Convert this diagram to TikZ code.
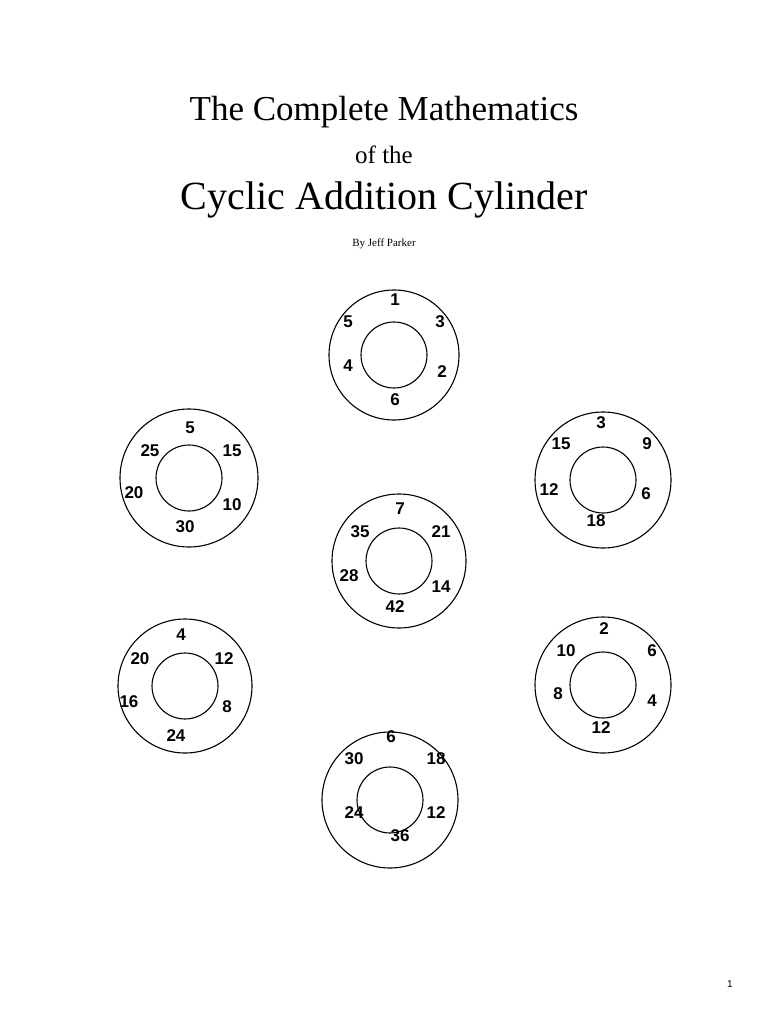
\documentclass[tikz,border=0pt]{standalone}
\usepackage{fontspec}
\setmainfont{Liberation Serif}
\newfontfamily\numfont{Liberation Sans}
\begin{document}
\begin{tikzpicture}[x=1pt,y=-1pt,
  ring/.style={draw,line width=1.1pt,circle},
  num/.style={font=\numfont\bfseries\fontsize{17}{17}\selectfont,inner sep=0pt}]
\useasboundingbox (0,0) rectangle (768,1024);
\node[font=\fontsize{35}{35}\selectfont] (t1) at (384,112) {The Complete Mathematics};
\node[font=\fontsize{25}{25}\selectfont] (t2) at (384,155) {of the};
\node[font=\fontsize{40}{40}\selectfont] (t3) at (384,200) {Cyclic Addition Cylinder};
\node[font=\fontsize{11}{11}\selectfont] (t4) at (384,244) {By Jeff Parker};
\node[font=\numfont\fontsize{10}{10}\selectfont] (pg) at (730,984) {1};
% rings: name/center/outer radius
\foreach \n/\cx/\cy/\r in {A/394/355/65, B/189/478/69, C/603/480/68, D/399/561/67, E/185/686/67, F/603/685/68, G/390/800/68}{
  \node[ring,minimum size=2*\r] (\n o) at (\cx,\cy) {};
  \node[ring,minimum size=66] (\n i) at (\cx,\cy) {};
}
\foreach \l/\x/\y in {1/395/300,3/440/322,2/442/372,6/395/400,4/348/366,5/348/322,
 5/190/428,15/232/451,10/232/505,30/185/527,20/134/493,25/150/451,
 3/601/423,9/647/444,6/646/494,18/596/521,12/549/490,15/561/444,
 7/400/509,21/441/532,14/441/587,42/395/607,28/349/576,35/360/532,
 4/181/635,12/224/659,8/227/707,24/176/736,16/129/702,20/140/659,
 2/604/629,6/652/651,4/652/701,12/601/728,8/558/694,10/566/651,
 6/391/737,18/436/759,12/436/813,36/400/836,24/354/813,30/354/759}{
  \node[num] at (\x,\y) {\l};
}
\end{tikzpicture}
\end{document}
